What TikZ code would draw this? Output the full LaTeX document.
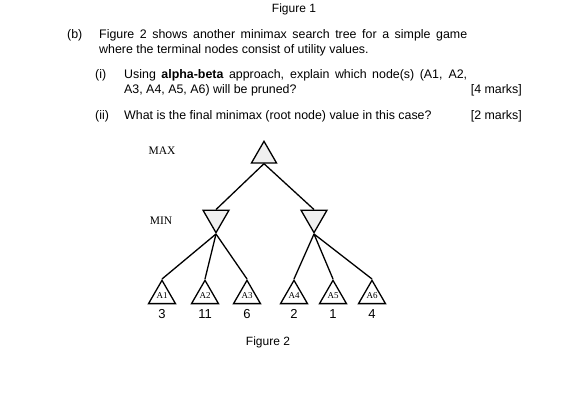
\documentclass[tikz,border=0pt]{standalone}
\usepackage{fontspec}
\setmainfont{Liberation Sans}
\newfontfamily\treefont{Liberation Serif}
\usetikzlibrary{shapes.geometric, positioning}
\tikzstyle{txt} = [anchor=base west, inner sep=0pt, font=\fontsize{12.4}{15}\selectfont]
\tikzstyle{maxnode} = [draw, line width=1.3pt, fill=gray!12, regular polygon, regular polygon sides=3, minimum size=29pt, inner sep=0pt]
\tikzstyle{minnode} = [maxnode, minimum size=30pt, shape border rotate=180]
\tikzstyle{leafnode} = [draw, line width=1.3pt, regular polygon, regular polygon sides=3, minimum size=29pt, inner sep=0pt, font=\treefont\fontsize{9}{10}\selectfont]
\tikzstyle{edge} = [line width=1.3pt]

\begin{document}
\begin{tikzpicture}[x=1pt, y=-1pt]
\useasboundingbox (0,0) rectangle (567,409);
\node[font=\fontsize{12}{14}\selectfont] (fig1) at (294,9) {Figure 1};

\node[txt] (b) at (67,39) {(b)};
\node[txt, text width=368pt, align=justify] (bq) at (99,39) {Figure 2 shows another minimax search tree for a simple game\linebreak where the terminal nodes consist of utility values.};

\node[txt] (i) at (95,79) {(i)};
\node[txt, text width=343pt, align=justify] (iq) at (124,79) {Using \textbf{alpha-beta} approach, explain which node(s) (A1, A2,\linebreak A3, A4, A5, A6) will be pruned?};
\node[txt, anchor=base east] (m4) at (522,94) {[4 marks]};

\node[txt] (ii) at (95,120) {(ii)};
\node[txt] (iiq) at (124,120) {What is the final minimax (root node) value in this case?};
\node[txt, anchor=base east] (m2) at (522,120) {[2 marks]};

\node[font=\treefont\fontsize{11.5}{12}\selectfont] (maxlbl) at (162,151) {MAX};
\node[font=\treefont\fontsize{11.5}{12}\selectfont] (minlbl) at (161,221) {MIN};

\node[maxnode, anchor=corner 1] (root) at (264,140) {};
\node[minnode, anchor=corner 1] (minl) at (216,234) {};
\node[minnode, anchor=corner 1] (minr) at (314,234) {};
\draw[edge] (root.side 2) -- (minl.side 2);
\draw[edge] (root.side 2) -- (minr.side 2);

\foreach \n/\x/\val in {1/162/3, 2/205/11, 3/247/6, 4/294/2, 5/333/1, 6/372/4} {
    \node[leafnode, anchor=corner 1] (a\n) at (\x,279) {A\n};
    \node[font=\fontsize{13}{14}\selectfont] (v\n) at (\x,314) {\val};
}
\foreach \n in {1,2,3}
    \draw[edge] (minl.corner 1) -- (a\n.corner 1);
\foreach \n in {4,5,6}
    \draw[edge] (minr.corner 1) -- (a\n.corner 1);

\node[font=\fontsize{12}{14}\selectfont] (fig2) at (268,342) {Figure 2};
\end{tikzpicture}
\end{document}
